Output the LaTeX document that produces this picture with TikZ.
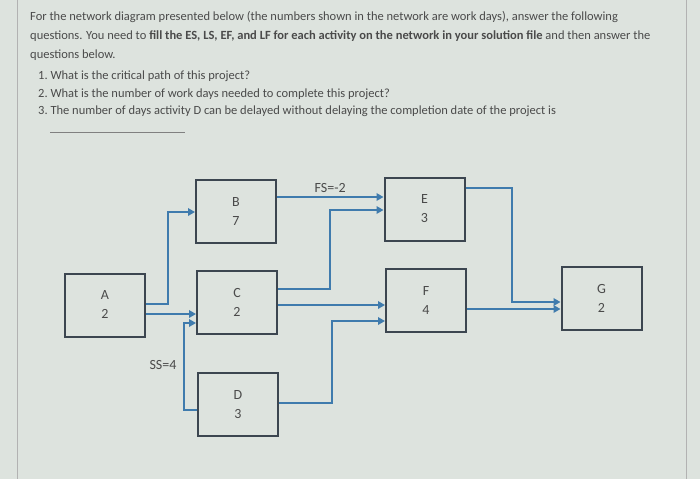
\documentclass[tikz,border=0pt]{standalone}
\usepackage{fontspec}
\setmainfont{Carlito}
\usetikzlibrary{arrows.meta}
\definecolor{bg}{HTML}{DDE3DE}
\definecolor{conn}{HTML}{3F7BAD}
\definecolor{boxline}{HTML}{3C4650}
\definecolor{txt}{HTML}{4A4A4A}
\tikzset{
  act/.style={draw=boxline, line width=2pt, fill=bg, minimum width=80pt, minimum height=63pt,
    align=center, inner sep=0pt, text=txt, font=\fontsize{14}{19}\selectfont},
  conn/.style={draw=conn, line width=2.8pt, -{Triangle[length=7pt,width=7.5pt]}},
  para/.style={anchor=base west, text=txt, inner sep=0pt, font=\fontsize{12.5}{14}\selectfont},
  lbl/.style={text=txt, inner sep=0pt, font=\fontsize{14}{16}\selectfont}
}
\begin{document}
\begin{tikzpicture}[x=1pt,y=-1pt]
\fill[bg] (0,0) rectangle (700,479);
\useasboundingbox (0,0) rectangle (700,479);
\draw[gray!60, line width=0.6pt] (17,0) -- (17,479);
\draw[gray!60, line width=0.6pt] (686,0) -- (686,479);
% text
\node[para] (t1) at (30,20) {For the network diagram presented below (the numbers shown in the network are work days), answer the following};
\node[para] (t2) at (30,39) {questions. You need to \textbf{fill the ES, LS, EF, and LF for each activity on the network in your solution file} and then answer the};
\node[para] (t3) at (30,58) {questions below.};
\node[para] (q1) at (38,79) {1.\ What is the critical path of this project?};
\node[para] (q2) at (38,97) {2.\ What is the number of work days needed to complete this project?};
\node[para] (q3) at (38,114) {3.\ The number of days activity D can be delayed without delaying the completion date of the project is};
\draw[gray, line width=0.8pt] (50,132) -- (185,132);
% activities
\node[act] (A) at (105,305) {A\\2};
\node[act] (B) at (236,211.5) {B\\7};
\node[act] (C) at (237,302) {C\\2};
\node[act] (D) at (238,404.5) {D\\3};
\node[act] (E) at (424.5,209) {E\\3};
\node[act] (F) at (426,300.5) {F\\4};
\node[act] (G) at (601.5,298) {G\\2};
% bends
\coordinate (ab) at (168,212);
\coordinate (dc) at (184,323);
\coordinate (ce) at (330,210);
\coordinate (df) at (332,321);
\coordinate (eg) at (512,302);
% connectors
\draw[conn] (A.east |- 0,304) -| (ab) -- (B.west |- ab);
\draw[conn] (A.east |- 0,314) -- (C.west |- 0,314);
\draw[conn] (D.west |- 0,410) -| (dc) -- (C.west |- dc);
\draw[conn] (B.east |- 0,197) -- (E.west |- 0,197) node[lbl, midway, above=3pt] (fs) {FS=-2};
\draw[conn] (C.east |- 0,289) -| (ce) -- (E.west |- ce);
\draw[conn] (C.east |- 0,305) -- (F.west |- 0,305);
\draw[conn] (D.east |- 0,403) -| (df) -- (F.west |- df);
\draw[conn] (E.east |- 0,188) -| (eg) -- (G.west |- eg);
\draw[conn] (F.east |- 0,309) -- (G.west |- 0,309);
\node[lbl] (ss) at (163,365) {SS=4};
\end{tikzpicture}
\end{document}
